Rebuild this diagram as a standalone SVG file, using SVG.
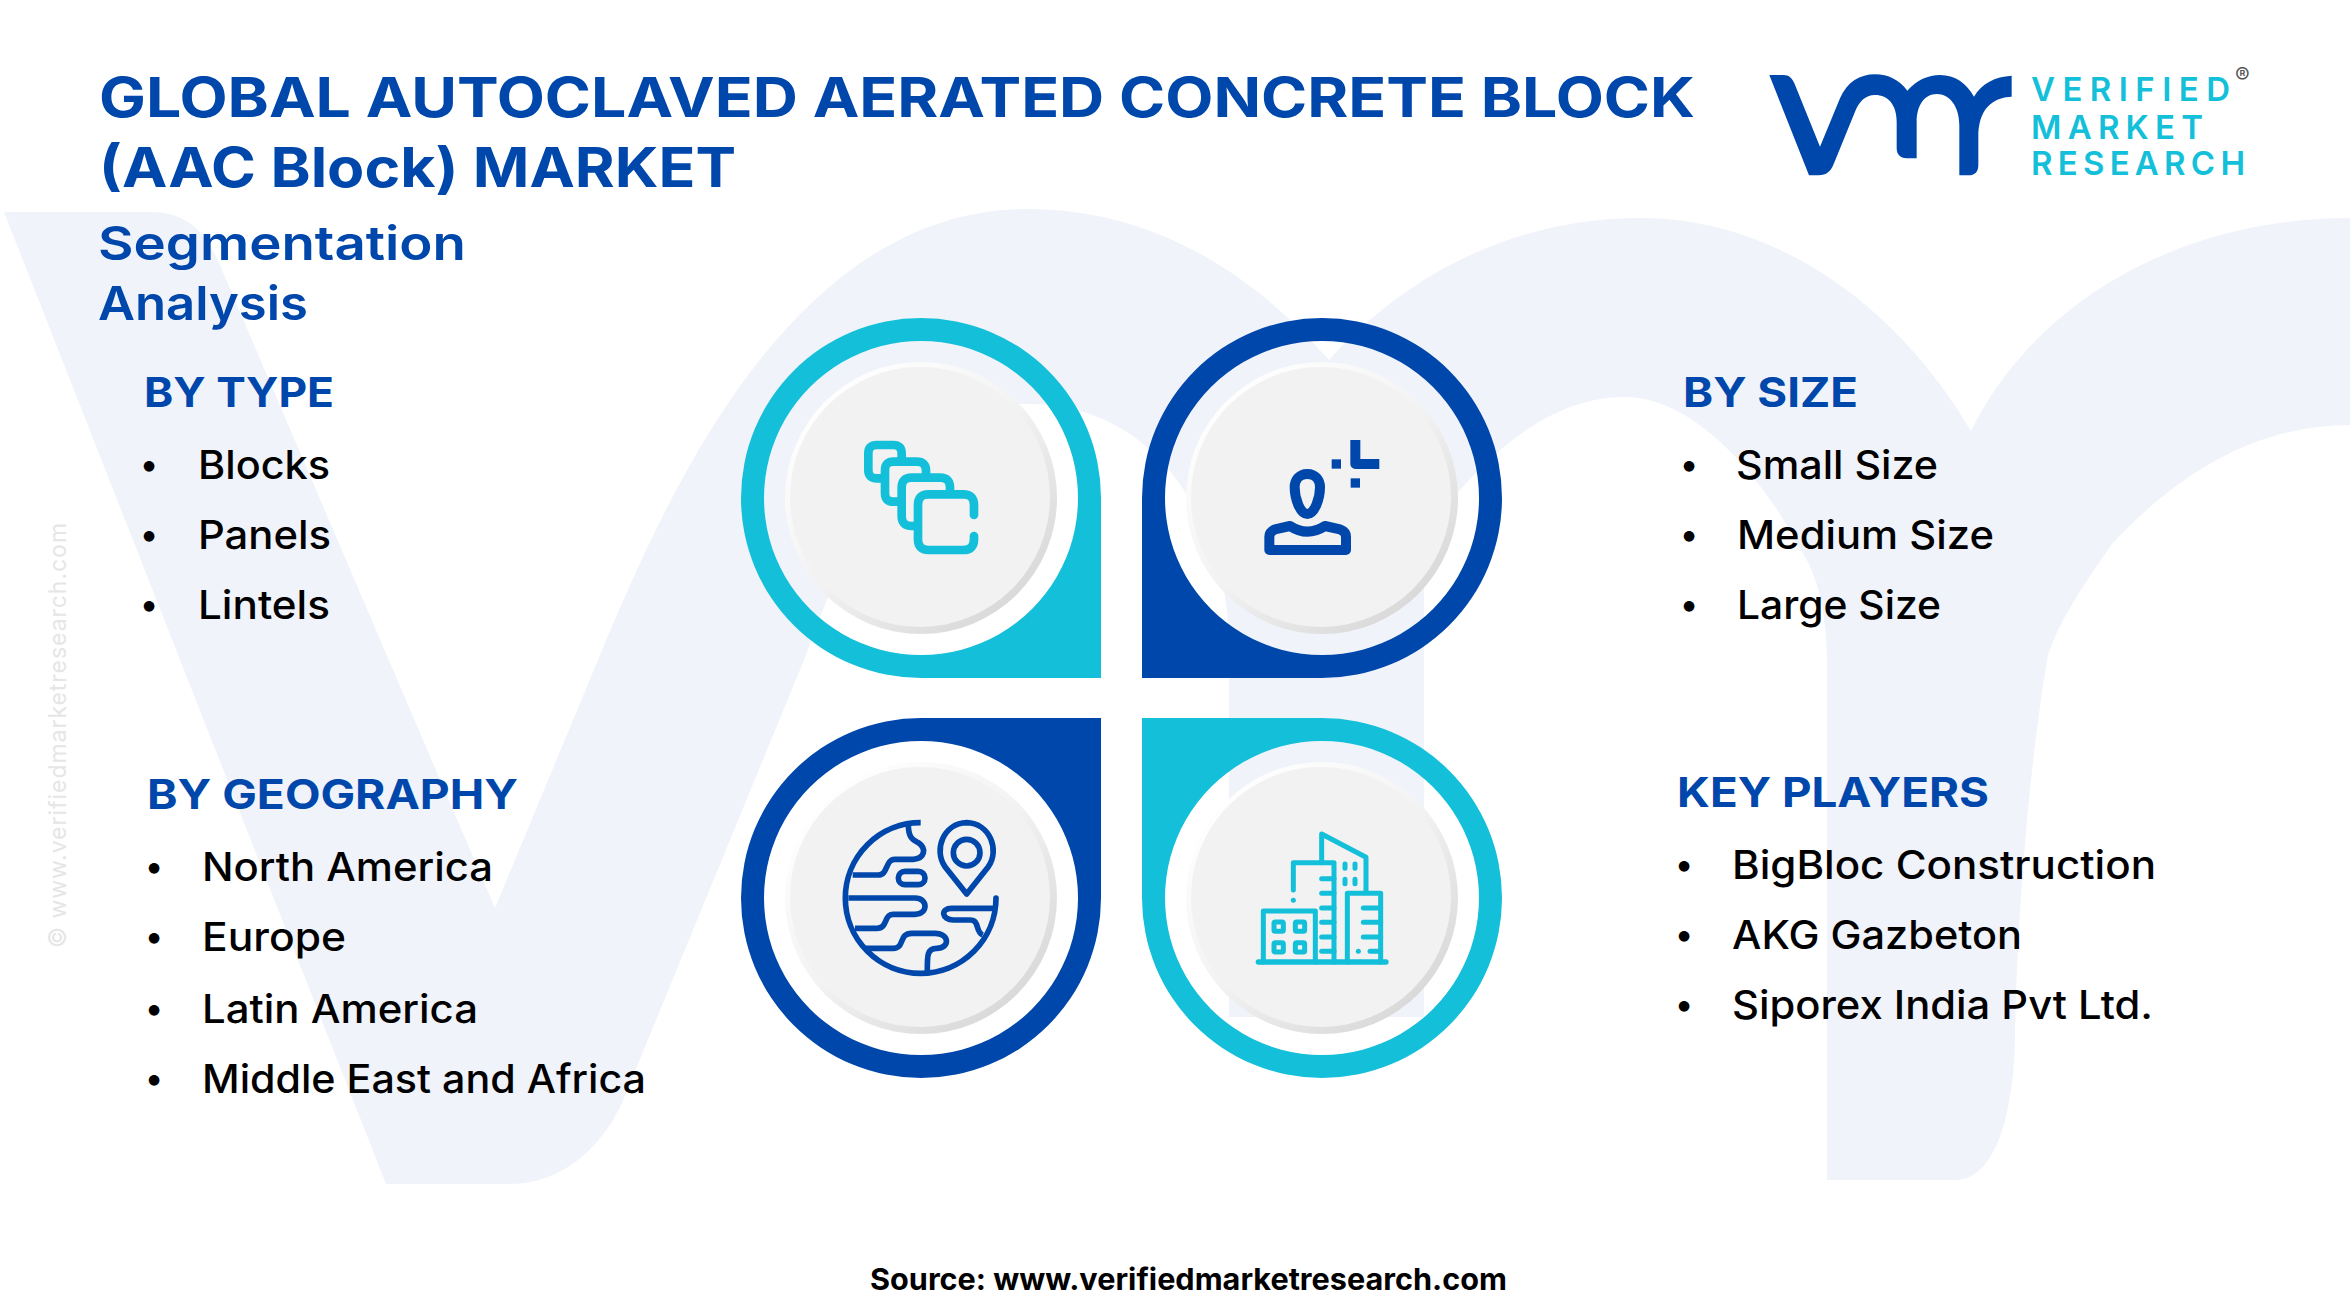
<svg xmlns="http://www.w3.org/2000/svg" width="2350" height="1310" viewBox="0 0 2350 1310">
<style>
text{font-family:"Inter","Liberation Sans",sans-serif}
.title{font-size:55px;font-weight:700;fill:#0047ab}
.sub{font-size:47px;font-weight:600;fill:#0047ab}
.head{font-size:41px;font-weight:700;fill:#0047ab}
.item{font-size:39px;font-weight:500;fill:#000}
.bul{font-size:34px;font-weight:500;fill:#000}
.src{font-size:30px;font-weight:700;fill:#000}
.wm{font-size:24px;font-weight:400;fill:#e6e6e6;letter-spacing:1px}
.brand{font-size:33px;font-weight:600;fill:#13bfd9}
.b{fill:#0047ab}.t{fill:#13bfd9}
.ib{fill:none;stroke:#0047ab;stroke-linejoin:round}
.it{fill:none;stroke:#13bfd9;stroke-linecap:round;stroke-linejoin:round}
</style>
<defs>
<linearGradient id="disc" x1="0.15" y1="0.1" x2="0.85" y2="0.9"><stop offset="0" stop-color="#fff"/><stop offset="0.5" stop-color="#f2f2f2"/><stop offset="1" stop-color="#d8d8d8"/></linearGradient>
<g id="d"><circle r="136" fill="url(#disc)"/><circle cx="-1" cy="-1" r="130" fill="#f2f2f2"/></g>
</defs>
<rect width="2350" height="1310" fill="#fff"/>
<g id="background-mark">
<path fill="#f0f3fa" d="M4,212 H150 C190,212 208,235 222,270 L495,908 L600,655 C665,500 790,209 1027,209 C1150,209 1250,270 1329,360 C1410,270 1520,218 1640,218 C1780,218 1900,310 1971,431 C2030,310 2170,218 2350,218 V425 C2270,425 2190,460 2112,544 C2080,590 2060,620 2048,655 C2030,760 2018,900 2015,1031 C2015,1100 2000,1180 1955,1180 H1827 V656 C1825,600 1815,570 1797,544 C1770,490 1700,397 1625,397 C1560,397 1505,439 1460,490 C1440,515 1424,550 1424,600 V1017 H1229 V640 C1229,560 1180,404 1027,404 C930,404 860,500 806,655 L622,1103 C600,1150 560,1184 510,1184 H386 Z"/>
</g>
<g id="title">
<text class="title" x="99" y="117" textLength="1596" lengthAdjust="spacingAndGlyphs">GLOBAL AUTOCLAVED AERATED CONCRETE BLOCK</text>
<text class="title" x="99" y="187" textLength="637" lengthAdjust="spacingAndGlyphs">(AAC Block) MARKET</text>
<text class="sub" x="98" y="260" textLength="368" lengthAdjust="spacingAndGlyphs">Segmentation</text>
<text class="sub" x="98" y="320" textLength="210" lengthAdjust="spacingAndGlyphs">Analysis</text>
</g>
<g id="logo">
<path class="b" transform="translate(1760,50) scale(.33333)" d="M28,75 H70 C88,75 97,85 104,102 L180,290 L240,145 C262,95 300,73 345,73 C385,73 418,90 442,122 C470,90 505,75 540,75 C585,75 620,100 642,140 C665,100 705,80 755,77 V140 C695,142 655,180 655,260 V345 C655,365 645,376 625,376 H598 V225 C598,170 570,132 530,132 C495,132 470,165 470,215 V325 H440 C420,325 410,312 410,295 V215 C410,165 385,135 345,135 C315,135 298,155 285,185 L222,340 C212,365 200,376 175,376 H147 Z"/>
<text class="brand" x="2031" y="101" textLength="199" lengthAdjust="spacing">VERIFIED</text>
<text class="brand" x="2031" y="139" textLength="172" lengthAdjust="spacing">MARKET</text>
<text class="brand" x="2031" y="175" textLength="214" lengthAdjust="spacing">RESEARCH</text>
<text x="2235" y="83" font-size="22" font-weight="400" fill="#555">®</text>
</g>
<g id="watermark">
<text class="wm" transform="translate(66,948) rotate(-90)" textLength="426" lengthAdjust="spacingAndGlyphs">© www.verifiedmarketresearch.com</text>
</g>
<g id="by-type">
<path class="t" fill-rule="evenodd" d="M1101,678 H921 A180,180 0 1 1 1101,498 Z M921,341 A157,157 0 1 0 921.01,341 Z"/>
<use href="#d" x="921" y="498"/>
<g class="it" transform="translate(800,400) scale(.33333)" stroke-width="26">
<path d="M245,235 H230 Q205,235 205,210 V160 Q205,135 230,135 H280 Q305,135 305,160 V180"/>
<path d="M300,305 H280 Q255,305 255,280 V210 Q255,185 280,185 H350 Q378,185 378,212 V232"/>
<path d="M345,378 H335 Q305,378 305,348 V262 Q305,233 335,233 H420 Q450,233 450,262 V275"/>
<path d="M522,345 V315 Q522,283 490,283 H385 Q354,283 354,315 V418 Q354,450 385,450 H490 Q522,450 522,418 V408"/>
</g>
<text class="head" x="144" y="407" textLength="190" lengthAdjust="spacingAndGlyphs">BY TYPE</text>
<text class="bul" x="140" y="476">•</text><text class="item" x="198" y="479" textLength="132" lengthAdjust="spacingAndGlyphs">Blocks</text>
<text class="bul" x="140" y="546">•</text><text class="item" x="198" y="549" textLength="133" lengthAdjust="spacingAndGlyphs">Panels</text>
<text class="bul" x="140" y="616">•</text><text class="item" x="198" y="619" textLength="132" lengthAdjust="spacingAndGlyphs">Lintels</text>
</g>
<g id="by-size">
<path class="b" fill-rule="evenodd" d="M1142,678 H1322 A180,180 0 1 0 1142,498 Z M1322,341 A157,157 0 1 0 1322.01,341 Z"/>
<use href="#d" x="1322" y="498"/>
<g transform="translate(1220,400) scale(.33333)">
<g class="ib" stroke-width="30">
<path d="M262,222 C238,222 224,240 224,262 C224,295 240,342 262,342 C284,342 300,295 300,262 C300,240 286,222 262,222 Z"/>
<path d="M148,450 V410 Q148,395 165,388 L210,378 Q262,412 315,378 L360,388 Q378,395 378,410 V450 Z"/>
<path d="M406,120 V192 H478"/>
</g>
<rect class="b" x="335" y="178" width="28" height="28"/><rect class="b" x="392" y="235" width="28" height="28"/>
</g>
<text class="head" x="1683" y="407" textLength="175" lengthAdjust="spacingAndGlyphs">BY SIZE</text>
<text class="bul" x="1680" y="476">•</text><text class="item" x="1736" y="479" textLength="202" lengthAdjust="spacingAndGlyphs">Small Size</text>
<text class="bul" x="1680" y="546">•</text><text class="item" x="1737" y="549" textLength="257" lengthAdjust="spacingAndGlyphs">Medium Size</text>
<text class="bul" x="1680" y="616">•</text><text class="item" x="1737" y="619" textLength="204" lengthAdjust="spacingAndGlyphs">Large Size</text>
</g>
<g id="by-geography">
<path class="b" fill-rule="evenodd" d="M1101,718 H921 A180,180 0 1 0 1101,898 Z M921,741 A157,157 0 1 0 921.01,741 Z"/>
<use href="#d" x="921" y="898"/>
<g class="ib" transform="translate(810,800) scale(.33333)" stroke-width="17">
<path d="M332,68 A226,226 0 1 0 558,294 V296"/>
<path d="M295,75 C295,115 310,120 325,128 C350,145 345,175 310,178 H255 C225,178 235,225 205,225 H128"/>
<rect x="265" y="214" width="80" height="40" rx="20"/>
<path d="M115,294 H315 C355,294 355,343 315,343 H250 C220,343 235,385 200,385 H135"/>
<path d="M165,445 H250 C285,445 265,400 305,400 H375 C420,400 420,445 380,445 C350,445 352,470 352,515"/>
<path d="M555,325 H425 C390,325 395,360 430,360 H480 C510,360 495,395 518,405"/>
<path d="M470,282 L405,200 C370,150 400,70 470,68 C540,70 570,150 535,200 Z"/>
<circle cx="470" cy="158" r="40"/>
</g>
<text class="head" x="147" y="809" textLength="371" lengthAdjust="spacingAndGlyphs">BY GEOGRAPHY</text>
<text class="bul" x="145" y="878">•</text><text class="item" x="202" y="881" textLength="291" lengthAdjust="spacingAndGlyphs">North America</text>
<text class="bul" x="145" y="948">•</text><text class="item" x="202" y="951" textLength="144" lengthAdjust="spacingAndGlyphs">Europe</text>
<text class="bul" x="145" y="1020">•</text><text class="item" x="202" y="1023" textLength="276" lengthAdjust="spacingAndGlyphs">Latin America</text>
<text class="bul" x="145" y="1090">•</text><text class="item" x="202" y="1093" textLength="444" lengthAdjust="spacingAndGlyphs">Middle East and Africa</text>
</g>
<g id="key-players">
<path class="t" fill-rule="evenodd" d="M1142,718 H1322 A180,180 0 1 1 1142,898 Z M1322,741 A157,157 0 1 0 1322.01,741 Z"/>
<use href="#d" x="1322" y="898"/>
<g class="it" transform="translate(1230,810) scale(.33333)" stroke-width="15">
<path stroke-width="16" d="M85,456 H468"/>
<path d="M100,456 V303 H256 V456"/>
<rect x="132" y="336" width="28" height="28" rx="4"/><rect x="196" y="336" width="28" height="28" rx="4"/>
<rect x="132" y="398" width="28" height="28" rx="4"/><rect x="196" y="398" width="28" height="28" rx="4"/>
<path d="M190,240 V158 H312 V456"/>
<path d="M275,206 H312 M275,250 H312 M275,294 H312 M275,337 H312 M275,381 H312 M275,424 H312"/>
<path d="M190,271 H190.1"/>
<path d="M275,158 V72 L408,142 V246"/>
<path d="M352,456 V250 H452 V456"/>
<path d="M400,294 H452 M400,337 H452 M400,381 H452 M420,424 H452"/>
<path d="M385,424 H385.1"/>
<path d="M345,162 V175 M375,162 V175 M345,208 V221 M375,208 V221"/>
</g>
<text class="head" x="1677" y="807" textLength="312" lengthAdjust="spacingAndGlyphs">KEY PLAYERS</text>
<text class="bul" x="1675" y="876">•</text><text class="item" x="1732" y="879" textLength="424" lengthAdjust="spacingAndGlyphs">BigBloc Construction</text>
<text class="bul" x="1675" y="946">•</text><text class="item" x="1732" y="949" textLength="290" lengthAdjust="spacingAndGlyphs">AKG Gazbeton</text>
<text class="bul" x="1675" y="1016">•</text><text class="item" x="1732" y="1019" textLength="421" lengthAdjust="spacingAndGlyphs">Siporex India Pvt Ltd.</text>
</g>
<g id="source">
<text class="src" x="870" y="1290" textLength="637" lengthAdjust="spacingAndGlyphs">Source: www.verifiedmarketresearch.com</text>
</g>
<g id="connectors"></g>
</svg>
